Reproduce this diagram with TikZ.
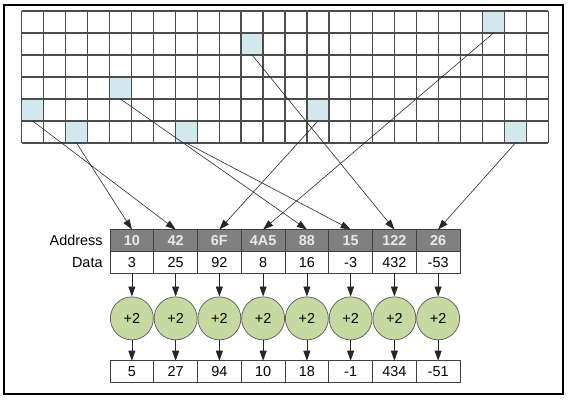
\documentclass[tikz,border=0pt]{standalone}
\usepackage{fontspec}
\setmainfont{Liberation Sans}
\usetikzlibrary{positioning,arrows.meta}
\definecolor{hitblue}{RGB}{208,232,238}
\definecolor{hdrgray}{RGB}{128,128,128}
\definecolor{hdrtext}{RGB}{232,232,232}
\definecolor{opgreen}{RGB}{198,217,161}

\begin{document}
\begin{tikzpicture}[
    x=0.03cm, y=-0.03cm,
    node distance=0pt,
    every node/.style={font=\fontsize{12.3}{14}\selectfont},
    hit/.style={rectangle, fill=hitblue, minimum width=0.658cm, minimum height=0.66cm,
                inner sep=0pt, outer sep=0pt},
    gridline/.style={black!70, line width=1.1pt},
    cell/.style={rectangle, draw=black!75, line width=0.6pt, fill=white,
                 minimum width=1.3125cm, minimum height=0.66cm, inner sep=0pt, outer sep=0pt},
    hdr/.style={cell, fill=hdrgray, text=hdrtext, font=\fontsize{12.3}{14}\selectfont\bfseries},
    op/.style={circle, draw=black!65, line width=0.6pt, fill=opgreen, minimum size=1.29cm, inner sep=0pt},
    arrow/.style={-{Triangle[length=0.3cm, width=0.21cm]}, line width=0.6pt, black!85},
    fetch/.style={arrow, line width=0.5pt},
    lbl/.style={font=\fontsize{12.3}{14}\selectfont}
]
\useasboundingbox (0,0) rectangle (570,412);
\draw[line width=0.9pt] (4,5) rectangle (563,394);

%% ── Memory grid ─────────────────────────────────────────────────
\begin{scope}[shift={(21.7,11)}, x=0.6582cm, y=-0.66cm]
  \node[hit] (src10)  at (2.5,5.5)  {};
  \node[hit] (src42)  at (0.5,4.5)  {};
  \node[hit] (src6F)  at (13.5,4.5) {};
  \node[hit] (src4A5) at (21.5,0.5) {};
  \node[hit] (src88)  at (4.5,3.5)  {};
  \node[hit] (src15)  at (7.5,5.5)  {};
  \node[hit] (src122) at (10.5,1.5) {};
  \node[hit] (src26)  at (22.5,5.5) {};
  \foreach \c in {0,...,24} \draw[gridline] (\c,0) -- (\c,6);
  \foreach \r in {0,...,6}  \draw[gridline] (0,\r) -- (24,\r);
\end{scope}

%% ── Address / data table, add units, results ────────────────────
\foreach \a/\d/\r [count=\i] in {10/3/5, 42/25/27, 6F/92/94, 4A5/8/10,
                                 88/16/18, 15/-3/-1, 122/432/434, 26/-53/-51}{
  \node[hdr] (addr\a) at (110+43.75*\i-21.875, 240.5) {\a};
  \node[cell, below=of addr\a]        (dat\a) {\d};
  \node[op,   below=0.69cm of dat\a]  (op\a)  {+2};
  \node[cell, below=0.615cm of op\a]  (res\a) {\r};
  \draw[arrow] (dat\a) -- (op\a);
  \draw[arrow] (op\a)  -- (res\a);
}

\node[lbl, left=0.1cm of addr10] {Address};
\node[lbl, left=0.1cm of dat10]  {Data};

%% ── Gather connectors ───────────────────────────────────────────
\draw[fetch] (src10.south)  -- (addr10.north);
\draw[fetch] (src42.south)  -- (addr42.north);
\draw[fetch] (src6F.south)  -- (addr6F.north);
\draw[fetch] (src4A5.south) -- (addr4A5.north);
\draw[fetch] (src88.south)  -- (addr88.north);
\draw[fetch] (src15.south)  -- (addr15.north);
\draw[fetch] (src122.south) -- (addr122.north);
\draw[fetch] (src26.south)  -- (addr26.north);

\end{tikzpicture}
\end{document}
